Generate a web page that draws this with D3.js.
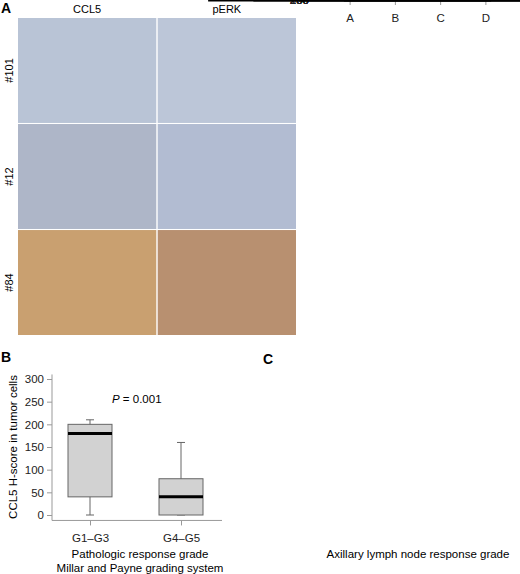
<!DOCTYPE html>
<html><head><meta charset="utf-8">
<script src="https://cdn.jsdelivr.net/npm/d3@7"></script>
<style>body{margin:0;background:#fff}text{font-family:Arial,"Liberation Sans",sans-serif}</style>
</head><body><svg id="c" width="520" height="574"></svg>
<script>
// Panel A (image tiles, approximated by mean colour)
const imgCols = ["CCL5", "pERK"];
const imgRows = ["#101", "#12", "#84"];
const imgColors = [["#b9c4d6", "#bcc6d8"], ["#aeb6c8", "#b2bcd2"], ["#c9a070", "#b89070"]];
// Panel B
const catsB = ["G1–G3", "G4–G5"];
const statsB = [[0, 40, 180, 200, 210], [0, 0, 40, 80, 160]];
// Panel C
const catsC = ["A", "B", "C", "D"];
const statsC = [[0, 10, 50, 80, 160], [0, 30, 165, 200, 200], [0, 50, 110, 170, 210], [0, 0, 40, 90, 210]];
const yTicks = [0, 50, 100, 150, 200, 250, 300];

const svg = d3.select("#c");
const grey = "#666";

const cx = d3.scaleBand().domain(imgCols).range([18, 296]).paddingInner(0.01);
const ry = d3.scaleBand().domain(imgRows).range([18, 335]).paddingInner(0.01);
imgRows.forEach((r, i) => imgCols.forEach((c, j) => {
  svg.append("rect").attr("x", cx(c)).attr("y", ry(r)).attr("width", cx.bandwidth()).attr("height", ry.bandwidth()).attr("fill", imgColors[i][j]);
}));
imgCols.forEach(c => svg.append("text").attr("x", cx(c) + cx.bandwidth() / 2).attr("y", 13).attr("text-anchor", "middle").attr("font-size", 11).text(c));
imgRows.forEach(r => svg.append("text").attr("transform", `translate(13,${ry(r) + ry.bandwidth() / 2}) rotate(-90)`).attr("text-anchor", "middle").attr("font-size", 11).text(r));
svg.append("text").attr("x", 1).attr("y", 13).attr("font-size", 14).attr("font-weight", "bold").text("A");

function boxPanel(cats, stats, r0, r1, ax0, ax1, y0, y1, bw, fill, yLabX) {
  const x = d3.scalePoint().domain(cats).range([r0, r1]).padding(0.5);
  const y = d3.scaleLinear().domain([0, 300]).range([y0, y1]);
  const g = svg.append("g");
  const ay = g.append("g").attr("transform", `translate(${ax0},0)`).call(d3.axisLeft(y).tickValues(yTicks).tickSize(5).tickSizeOuter(0));
  ay.select(".domain").attr("d", `M0,${y(-12)}V${y(310)}`);
  const ax = g.append("g").attr("transform", `translate(0,${y(-12)})`).call(d3.axisBottom(x).tickSize(5).tickSizeOuter(0));
  ax.select(".domain").attr("d", `M${ax0},0H${ax1}`);
  g.selectAll(".domain,.tick line").attr("stroke", "#999");
  g.selectAll(".tick text").attr("font-size", 11.5).attr("fill", "#222").attr("font-family", "Arial,Liberation Sans");
  ax.selectAll(".tick text").attr("dy", "1.2em");
  cats.forEach((c, i) => {
    const [mn, q1, md, q3, mx] = stats[i], cxp = x(c);
    g.append("line").attr("x1", cxp).attr("x2", cxp).attr("y1", y(mn)).attr("y2", y(mx)).attr("stroke", grey);
    [mn, mx].forEach(v => g.append("line").attr("x1", cxp - 4).attr("x2", cxp + 4).attr("y1", y(v)).attr("y2", y(v)).attr("stroke", grey));
    g.append("rect").attr("x", cxp - bw / 2).attr("width", bw).attr("y", y(q3)).attr("height", y(q1) - y(q3)).attr("fill", fill).attr("stroke", grey);
    g.append("line").attr("x1", cxp - bw / 2).attr("x2", cxp + bw / 2).attr("y1", y(md)).attr("y2", y(md)).attr("stroke", "#000").attr("stroke-width", 3);
  });
  svg.append("text").attr("transform", `translate(${yLabX},${(y(0) + y(300)) / 2}) rotate(-90)`).attr("text-anchor", "middle").attr("font-size", 11.5).text("CCL5 H-score in tumor cells");
}

boxPanel(catsB, statsB, 44.5, 226.5, 52, 222, 515, 379, 44, "#d2d2d2", 17);
svg.append("text").attr("x", 1).attr("y", 362).attr("font-size", 14).attr("font-weight", "bold").text("B");
const pt = svg.append("text").attr("x", 112).attr("y", 403).attr("font-size", 11.5);
pt.append("tspan").attr("font-style", "italic").text("P");
pt.append("tspan").text(" = 0.001");
svg.append("text").attr("x", 140).attr("y", 558).attr("text-anchor", "middle").attr("font-size", 11.5).text("Pathologic response grade");
svg.append("text").attr("x", 140).attr("y", 572).attr("text-anchor", "middle").attr("font-size", 11.5).text("Millar and Payne grading system");

boxPanel(catsC, statsC, 327, 508, 317, 507, 23, "#a3a3a3", 283);
svg.append("text").attr("x", 263).attr("y", 364).attr("font-size", 14).attr("font-weight", "bold").text("C");
svg.append("text").attr("x", 418).attr("y", 558).attr("text-anchor", "middle").attr("font-size", 11.5).text("Axillary lymph node response grade");
</script></body></html>
